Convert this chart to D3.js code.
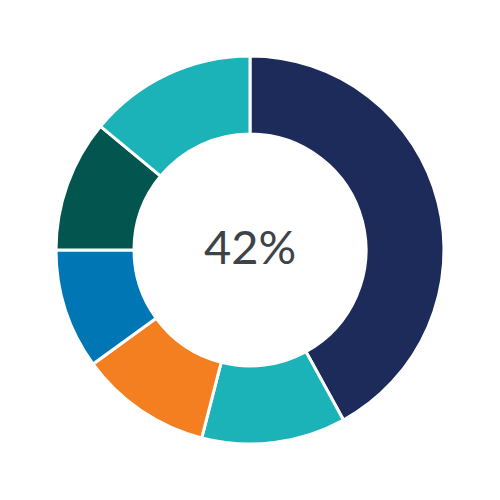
<!DOCTYPE html>
<html>
<head>
<meta charset="utf-8">
<script src="https://cdn.jsdelivr.net/npm/d3@7"></script>
<style>
  body { margin: 0; background: #fff; }
</style>
</head>
<body>
<svg id="chart"></svg>
<script>
// доли сегментов, по часовой стрелке от верха
const segments = ["A", "B", "C", "D", "E", "F"];
const values = [42, 12, 11, 10, 11, 14];
const colors = ["#1c2b59", "#1bb3b7", "#f37f21", "#0076b5", "#02564f", "#1bb3b7"];
const centerLabel = "42%";

const width = 500;
const height = 500;
const outerR = 194;
const innerR = 116;

const svg = d3.select("#chart")
    .attr("width", width)
    .attr("height", height);

const g = svg.append("g")
    .attr("transform", `translate(${width / 2}, ${height / 2})`);

const pie = d3.pie().sort(null).value(d => d)(values);
const arc = d3.arc().innerRadius(innerR).outerRadius(outerR);

g.selectAll("path")
    .data(pie)
    .enter()
    .append("path")
    .attr("d", arc)
    .attr("fill", (d, i) => colors[i])
    .attr("stroke", "white")
    .attr("stroke-width", 3);

// подпись в центре
g.append("text")
    .attr("text-anchor", "middle")
    .attr("y", 14)
    .style("font-family", "Lato, sans-serif")
    .style("font-size", "47px")
    .style("font-weight", 400)
    .style("fill", "#3d4348")
    .text(centerLabel);
</script>
</body>
</html>
